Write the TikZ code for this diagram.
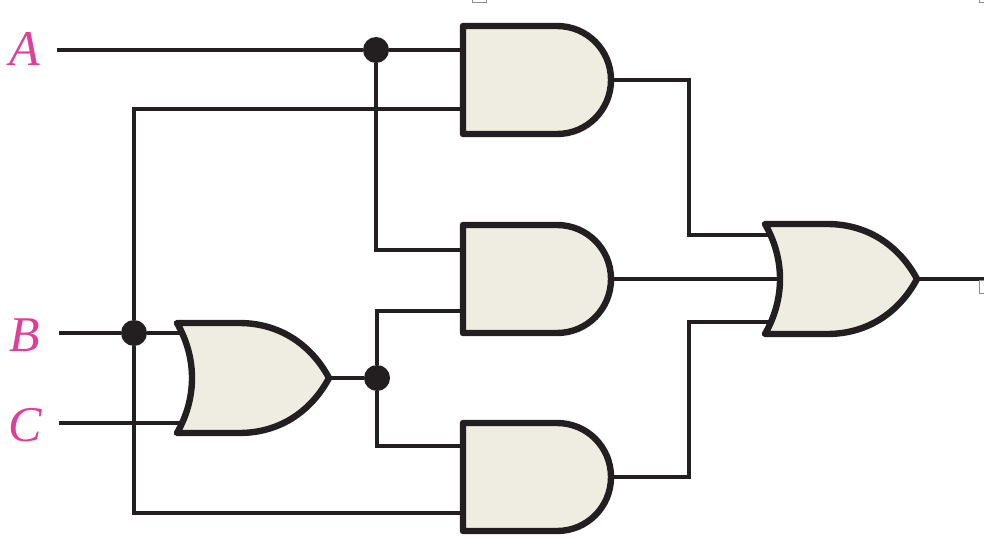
\documentclass[tikz,border=0pt]{standalone}
\usepackage{fontspec}
\setmainfont{Liberation Serif}
\usepackage{color}

\definecolor{ink}{HTML}{231F20}
\definecolor{gatefill}{HTML}{EFEDE1}
\definecolor{labelpink}{HTML}{DF3F96}

\tikzset{
	wire/.style={line width=4pt, ink},
	gatebody/.style={line width=6.4pt, ink, fill=gatefill, line join=round},
	junction/.style={circle, fill=ink, inner sep=0, minimum size=26pt},
	inlabel/.style={anchor=east, inner sep=0, minimum width=#1, text=labelpink, font=\fontsize{50}{50}\selectfont\itshape},
	handle/.style={line width=1pt, draw=black!45, fill=white}
}

\begin{document}
\begin{tikzpicture}[x=1pt,y=-1pt]
				\useasboundingbox (0,0) rectangle (984,556);

				% input labels
				\node[inlabel=64pt] (A) at (57,49) {A};
				\node[inlabel=68pt] (B) at (59,335) {B};
				\node[inlabel=68pt] (C) at (59,425) {C};

				% junctions
				\node[junction] (dotA) at (376,50) {};
				\node[junction] (dotB) at (134,333) {};
				\node[junction] (dotOr) at (377,378) {};

				% and gates: name, middle, upper input, lower input
				\foreach \name/\y/\ya/\yb in {andtop/80/50/109, andmid/279/250/311, andbot/477/446/513}
					{
						\coordinate (\name a) at (470,\ya);
						\coordinate (\name b) at (470,\yb);
						\coordinate (\name out) at (611,\y);
					}

				% or gates
				\foreach \name/\x/\y/\ya/\yb in {orleft/177/378/333/423, orright/765/279/235/322}
					{
						\coordinate (\name a) at ({\x+8},\ya);
						\coordinate (\name b) at ({\x+8},\yb);
						\coordinate (\name in) at ({\x+15},\y);
						\coordinate (\name out) at ({\x+151},\y);
					}

				\coordinate (turnAnd) at (134,109);
				\coordinate (outEnd) at (984,279);

				% wires
				\draw[wire] (A.east |- dotA) -- (dotA) -- (andtopa);
				\draw[wire] (dotA) |- (andmida);
				\draw[wire] (andtopb) -- (turnAnd) -- (dotB) |- (andbotb);
				\draw[wire] (B.east |- dotB) -- (dotB) -- (orlefta);
				\draw[wire] (C.east |- orleftb) -- (orleftb);
				\draw[wire] (orleftout) -- (dotOr);
				\draw[wire] (dotOr) |- (andmidb);
				\draw[wire] (dotOr) |- (andbota);
				\draw[wire] (andtopout) -| (689,235) -- (orrighta);
				\draw[wire] (andmidout) -- (orrightin);
				\draw[wire] (andbotout) -| (689,322) -- (orrightb);
				\draw[wire] (orrightout) -- (outEnd);

				% gate bodies
				\foreach \y in {80,279,477}
					{
						\filldraw[gatebody] (463,{\y-54}) -- (557,{\y-54})
							.. controls +(30,0) and +(0,-30) .. (611,\y)
							.. controls +(0,30) and +(30,0) .. (557,{\y+54})
							-- (463,{\y+54}) -- cycle;
					}

				\foreach \x/\y in {177/378,765/279}
					{
						\filldraw[gatebody] (\x,{\y-55}) -- ({\x+62},{\y-55})
							.. controls +(44,0) and +(-16,-30) .. ({\x+152},\y)
							.. controls +(-16,30) and +(44,0) .. ({\x+62},{\y+55})
							-- (\x,{\y+55})
							.. controls +(20,-35) and +(20,35) .. (\x,{\y-55}) -- cycle;
					}

				% small handles at the edges
				\draw[handle] (472,-6) rectangle (486,3);
				\draw[handle] (979,-6) rectangle (990,3);
				\draw[handle] (979,280) rectangle (990,293);
			\end{tikzpicture}
\end{document}
